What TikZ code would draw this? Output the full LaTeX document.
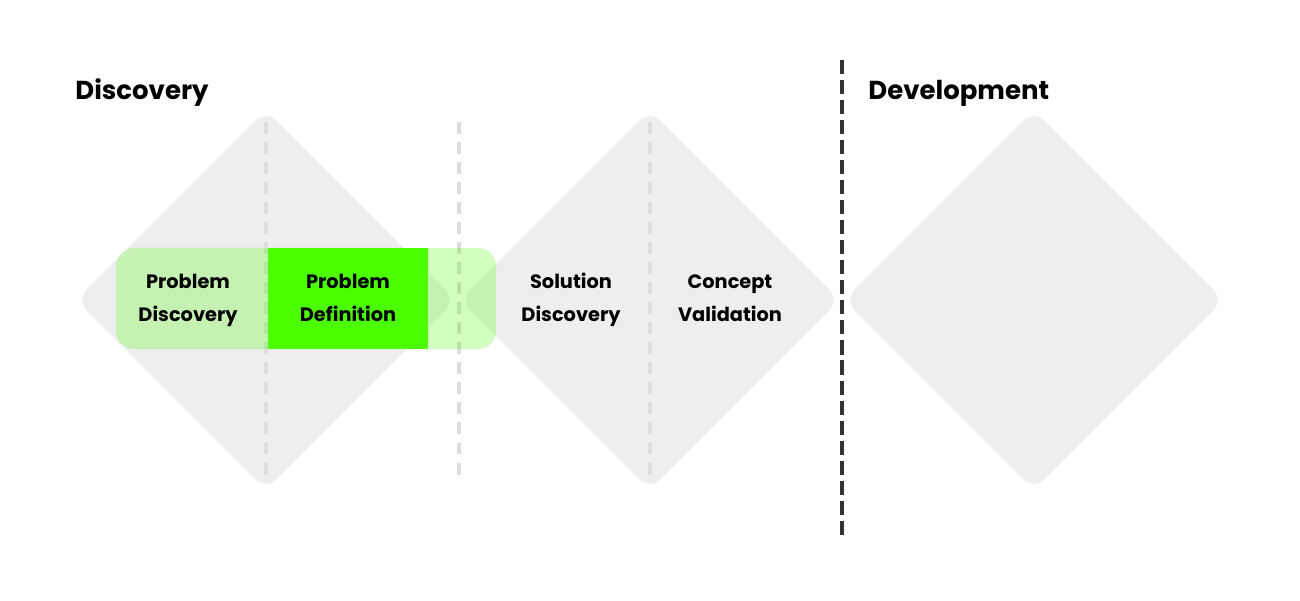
\documentclass[tikz,border=0pt]{standalone}
\usepackage{fontspec}
\setmainfont{Poppins}
\usepackage{xcolor}
\usetikzlibrary{positioning,shapes.geometric}
\definecolor{ddGray}{RGB}{238,238,238}
\definecolor{ddLine}{RGB}{221,221,221}
\definecolor{ddDark}{RGB}{51,51,51}
\definecolor{ddGreen}{RGB}{76,255,0}

\begin{document}
\begin{tikzpicture}[
  phase/.style={diamond,fill=ddGray,minimum width=7.6cm,minimum height=7.6cm,inner sep=0pt,rounded corners=0.3cm},
  divider/.style={draw=ddLine,line width=2.3pt,dash pattern=on 6.8pt off 4.6pt},
  label/.style={anchor=base,align=center,font=\bfseries\fontsize{11}{18.5}\selectfont},
  title/.style={anchor=base west,inner sep=0pt,font=\bfseries\fontsize{14.8}{17}\selectfont}]
\useasboundingbox (0,0) rectangle (26,12);
\node[phase] (dmDiscover) at (5.32,6) {};
\node[phase] (dmSolution) at (13,6) {};
\node[phase] (dmDevelop) at (20.68,6) {};
\draw[divider] (5.32,9.56) -- (5.32,2.44);
\draw[divider] (9.18,9.56) -- (9.18,2.44);
\draw[divider] (13,9.56) -- (13,2.44);
\node[fill=ddGreen,fill opacity=0.25,rounded corners=0.36cm,minimum width=7.6cm,minimum height=2.02cm] (band) at (6.12,6.03) {};
\node[fill=ddGreen,minimum width=3.2cm,minimum height=2.02cm] (defbox) at (6.96,6.03) {};
\node[label] (probdisc) at (3.76,5.58) {Problem\\Discovery};
\node[label] (probdef) at (6.96,5.58) {Problem\\Definition};
\node[label] (soldisc) at (11.42,5.58) {Solution\\Discovery};
\node[label] (conval) at (14.6,5.58) {Concept\\Validation};
\node[title] (titleDisc) at (1.5,10) {Discovery};
\node[title] (titleDev) at (17.36,10) {Development};
\draw[draw=ddDark,line width=2.3pt,dash pattern=on 8pt off 3.4pt] (16.84,10.8) -- (16.84,1.3);
\end{tikzpicture}
\end{document}
